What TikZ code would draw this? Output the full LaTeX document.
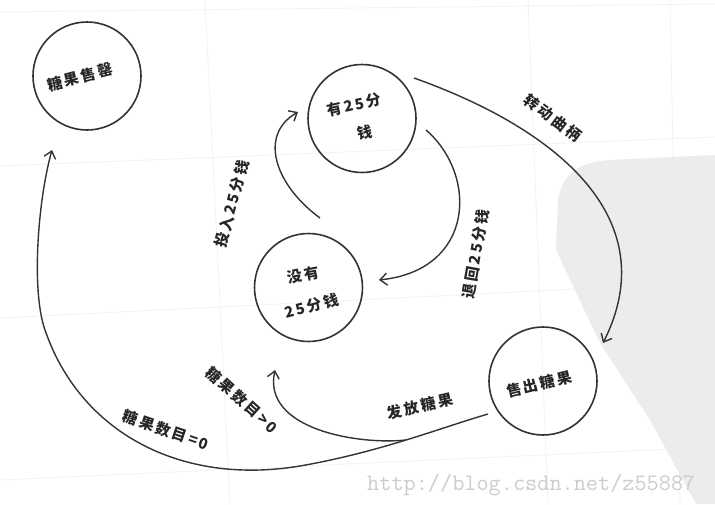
\documentclass[tikz,border=0pt]{standalone}
\usepackage{fontspec}
\newfontfamily\hand[LetterSpace=15]{Noto Sans CJK SC}
\usetikzlibrary{arrows.meta}
\definecolor{ink}{HTML}{333333}
\begin{document}
\begin{tikzpicture}[x=1pt,y=-1pt,
  state/.style={circle,draw=ink,line width=1.6pt,minimum size=108pt,inner sep=0pt},
  lbl/.style={font=\hand\bfseries\fontsize{15}{17}\selectfont,text=black!85,inner sep=1pt},
  arr/.style={draw=ink,line width=1.4pt,-{Straight Barb[length=7pt,width=12pt]}},
  gridl/.style={draw=gray!10,line width=0.8pt}]
\useasboundingbox (0,0) rectangle (715,504);
\fill[white] (0,0) rectangle (715,504);
% faint paper grid
\draw[gridl] (205,0) -- (230,504);
\draw[gridl] (528,0) -- (548,504);
\draw[gridl] (670,0) -- (680,504);
\draw[gridl] (0,12) -- (715,4);
\draw[gridl] (0,166) -- (715,137);
\draw[gridl] (0,318) -- (715,282);
\draw[gridl] (0,480) -- (715,447);
% watermark blob
\fill[gray!15] (715,155) -- (610,160) .. controls (580,162) and (563,172) .. (558,200) -- (556,250) -- (600,343) -- (650,420) -- (696,504) -- (715,504) -- cycle;
\node[anchor=base west,text=gray!40,font=\ttfamily\fontsize{23.6}{26}\selectfont,inner sep=0pt] (url) at (367,490) {http://blog.csdn.net/z55887};
% states
\node[state] (soldout) at (87,76) {};
\node[state] (has) at (362,118.5) {};
\node[state] (none) at (308.5,287.5) {};
\node[state] (sold) at (543,381) {};
% state texts
\node[lbl,rotate=15] (tsoldout) at (80,77) {糖果售罄};
\node[lbl,rotate=13] (thas1) at (354,105) {有25分};
\node[lbl,rotate=10] (thas2) at (365,133) {钱};
\node[lbl,rotate=11] (tnone1) at (303,275) {没有};
\node[lbl,rotate=15] (tnone2) at (312,306) {25分钱};
\node[lbl,rotate=14] (tsold) at (539,384) {售出糖果};
% transition labels
\node[lbl,rotate=-37] (lturn) at (553,118) {转动曲柄};
\node[lbl,rotate=75] (lins) at (232,204) {投入25分钱};
\node[lbl,rotate=80] (lret) at (476,254) {退回25分钱};
\node[lbl,rotate=13] (ldisp) at (420,406) {发放糖果};
\node[lbl,rotate=-42] (lgt) at (242,400) {糖果数目>0};
\node[lbl,rotate=-19] (leq) at (166,430) {糖果数目=0};
% connectors
\draw[arr] ([shift={(11.5,-69.5)}]none.center) .. controls (275,185) and (258,135) .. ([shift={(-64,-6.5)}]has.center);
\draw[arr] ([shift={(64,11.5)}]has.center) .. controls (478,175) and (475,270) .. ([shift={(70.5,-7.5)}]none.center);
\draw[arr] ([shift={(52,-40.5)}]has.center) .. controls (560,130) and (665,220) .. ([shift={(60,-38)}]sold.center);
\draw[arr] ([shift={(-55,33)}]sold.center) .. controls (440,428) and (380,452) .. (300,466) coordinate[pos=0.5] (br)
   .. controls (180,486) and (80,432) .. (45,330)
   .. controls (31,290) and (38,200) .. ([shift={(-35,74)}]soldout.center);
\draw[arr] (br) .. controls (360,445) and (262,430) .. ([shift={(-33.5,82.5)}]none.center);
\end{tikzpicture}
\end{document}
